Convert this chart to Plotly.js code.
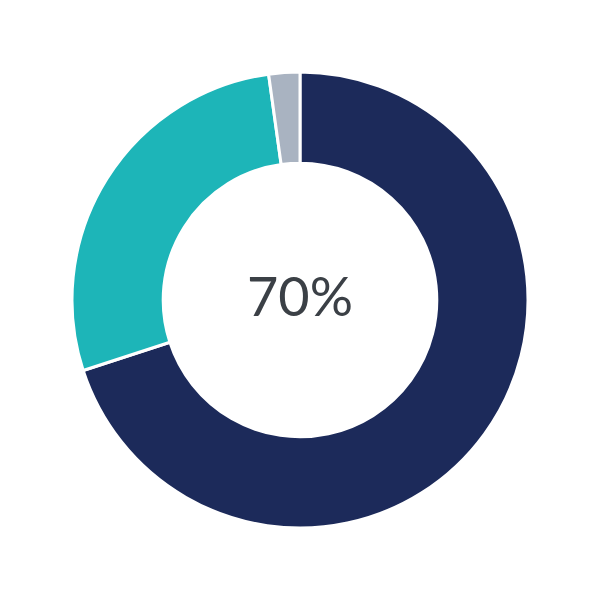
<!DOCTYPE html>
<html>
<head>
<meta charset="utf-8">
<script src="https://cdn.plot.ly/plotly-3.0.1.min.js"></script>
<style>html,body{margin:0;padding:0;background:#fff;}#chart{width:600px;height:600px;}</style>
</head>
<body>
<div id="chart"></div>
<script>
const labels = ["Primary", "Secondary", "Other"];
const values = [70, 27.8, 2.2];
const colors = ["#1c2a5a", "#1db5b8", "#a9b3c1"];
const centerText = "70%";

Plotly.newPlot("chart", [{
  type: "pie",
  labels: labels,
  values: values,
  hole: 0.6,
  sort: false,
  direction: "clockwise",
  rotation: 0,
  textinfo: "none",
  hoverinfo: "none",
  marker: {colors: colors, line: {color: "#ffffff", width: 3}},
  domain: {x: [0.12, 0.88], y: [0.12, 0.88]}
}], {
  width: 600, height: 600,
  margin: {l: 0, r: 0, t: 0, b: 0},
  showlegend: false,
  paper_bgcolor: "#ffffff",
  annotations: [{
    text: centerText, x: 0.5, y: 0.5, xref: "paper", yref: "paper",
    yshift: 5,
    showarrow: false, font: {family: "Lato", size: 54, color: "#3b4046"}
  }]
}, {staticPlot: true});
</script>
</body>
</html>
